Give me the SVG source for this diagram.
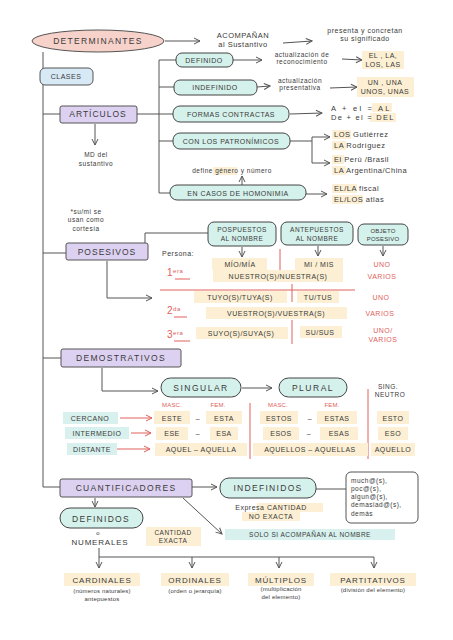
<svg xmlns="http://www.w3.org/2000/svg" width="453" height="640" viewBox="0 0 453 640">
<defs>
<marker id="a" markerWidth="8" markerHeight="8" refX="7" refY="4" orient="auto" markerUnits="userSpaceOnUse"><path d="M1,1 L7,4 L1,7" fill="none" stroke="#555" stroke-width="1"/></marker>
<marker id="ar" markerWidth="8" markerHeight="8" refX="7" refY="4" orient="auto" markerUnits="userSpaceOnUse"><path d="M1,1 L7,4 L1,7" fill="none" stroke="#e0605a" stroke-width="1"/></marker>
<style>
text{font-family:"Liberation Sans",Arial,sans-serif;fill:#3a3a3a;font-size:7px;letter-spacing:0.5px}
.m{text-anchor:middle}
.b8{font-size:8.5px;letter-spacing:1px}
.s6{font-size:6px;letter-spacing:0.2px}
.s65{font-size:6.5px}
.s75{font-size:7.5px}
.red{fill:#e0605a}
.pink{fill:#f6d2ca;stroke:#555;stroke-width:1}
.blue{fill:#d8e9f6;stroke:#555;stroke-width:1}
.pur{fill:#ddd1f1;stroke:#555;stroke-width:1}
.grn{fill:#d5f1eb;stroke:#444;stroke-width:1}
.hl{fill:#fcefd3}
.hlt{fill:#d8f1ee}
.box{fill:#fff;stroke:#555;stroke-width:1}
.c line,.c polyline,.c path{fill:none;stroke:#555;stroke-width:1}
.c .r{stroke:#e0605a}
</style>
</defs>
<rect width="453" height="640" fill="#fff"/>

<g class="c" id="connectors">
<line x1="43" y1="52" x2="43" y2="487"/>
<line x1="43" y1="487" x2="60" y2="487"/>
<line x1="43" y1="114" x2="60" y2="114"/>
<line x1="43" y1="253" x2="66" y2="253"/>
<line x1="43" y1="358" x2="61" y2="358"/>
<line x1="165" y1="41" x2="200" y2="41" marker-end="url(#a)"/>
<line x1="283" y1="43" x2="312" y2="41" marker-end="url(#a)"/>
<line x1="95" y1="124" x2="95" y2="145" marker-end="url(#a)"/>
<line x1="137" y1="114" x2="159" y2="114"/>
<line x1="159" y1="60" x2="159" y2="193"/>
<line x1="159" y1="60" x2="176" y2="60"/>
<line x1="159" y1="87" x2="174" y2="87"/>
<line x1="159" y1="114" x2="173" y2="114"/>
<line x1="159" y1="141" x2="173" y2="141"/>
<line x1="159" y1="193" x2="170" y2="193"/>
<line x1="233" y1="60" x2="262" y2="60" marker-end="url(#a)"/>
<line x1="342" y1="59" x2="362" y2="60" marker-end="url(#a)"/>
<line x1="257" y1="87" x2="270" y2="86" marker-end="url(#a)"/>
<line x1="330" y1="88" x2="357" y2="87" marker-end="url(#a)"/>
<line x1="290" y1="114" x2="322" y2="113" marker-end="url(#a)"/>
<polyline points="290,141 312,141"/>
<line x1="312" y1="137" x2="312" y2="163"/>
<line x1="312" y1="137" x2="330" y2="137" marker-end="url(#a)"/>
<line x1="312" y1="163" x2="330" y2="163" marker-end="url(#a)"/>
<line x1="242" y1="186" x2="242" y2="176" marker-end="url(#a)"/>
<line x1="306" y1="194" x2="327" y2="194" marker-end="url(#a)"/>
<polyline points="145,243 145,233 208,233"/>
<line x1="242" y1="247" x2="242" y2="257" marker-end="url(#a)"/>
<line x1="318" y1="246" x2="318" y2="256" marker-end="url(#a)"/>
<line x1="383" y1="246" x2="383" y2="256" marker-end="url(#a)"/>
<polyline points="107,261 107,298 152,298" marker-end="url(#a)"/>
<line class="r" x1="280" y1="249" x2="280" y2="270"/>
<line class="r" x1="160" y1="290" x2="355" y2="290"/>
<line class="r" x1="292" y1="284" x2="292" y2="302"/>
<line class="r" x1="292" y1="320" x2="292" y2="344"/>
<polyline points="102,368 102,391 158,391" marker-end="url(#a)"/>
<line x1="242" y1="388" x2="272" y2="388" marker-end="url(#a)"/>
<line class="r" x1="250" y1="403" x2="250" y2="459"/>
<line class="r" x1="368" y1="389" x2="368" y2="459"/>
<line class="r" x1="120" y1="418" x2="152" y2="418" marker-end="url(#ar)"/>
<line class="r" x1="131" y1="433" x2="151" y2="433" marker-end="url(#ar)"/>
<line class="r" x1="117" y1="449" x2="150" y2="449" marker-end="url(#ar)"/>
<line x1="192" y1="487" x2="217" y2="487" marker-end="url(#a)"/>
<line x1="316" y1="489" x2="346" y2="489"/>
<line x1="183" y1="498" x2="222" y2="534" marker-end="url(#a)"/>
<line x1="95" y1="498" x2="95" y2="507" marker-end="url(#a)"/>
<line x1="99" y1="548" x2="99" y2="568" marker-end="url(#a)"/>
<line x1="99" y1="557" x2="374" y2="557"/>
<line x1="192" y1="557" x2="192" y2="568" marker-end="url(#a)"/>
<line x1="279" y1="557" x2="279" y2="568" marker-end="url(#a)"/>
<line x1="374" y1="557" x2="374" y2="568" marker-end="url(#a)"/>
</g>

<g id="determinantes"><ellipse class="pink" cx="98" cy="41" rx="66" ry="11"/><text class="m b8" x="98" y="44" style="letter-spacing:1.3px">DETERMINANTES</text></g>
<g id="acompanan"><text class="m s75" x="243" y="38">ACOMPAÑAN</text><text class="m s75" x="243" y="47">al Sustantivo</text></g>
<g id="presenta"><text class="m" x="365" y="33">presenta y concretan</text><text class="m" x="365" y="41">su significado</text></g>
<g id="clases"><rect class="blue" x="40" y="68" width="53" height="17" rx="5"/><text class="m" x="66" y="79">CLASES</text></g>
<g id="articulos"><rect class="pur" x="60" y="106" width="77" height="17" rx="2"/><text class="m b8" x="98" y="117">ARTÍCULOS</text></g>
<g id="md"><text class="m s65" x="96" y="157">MD del</text><text class="m s65" x="96" y="166">sustantivo</text></g>

<g id="definido"><rect class="grn" x="176" y="53" width="57" height="14" rx="6"/><text class="m" x="204" y="63">DEFINIDO</text></g>
<g id="act-rec"><text class="m s65" x="302" y="57">actualización de</text><text class="m s65" x="302" y="64">reconocimiento</text></g>
<g id="el-la"><rect class="hl" x="362" y="51" width="42" height="18"/><text class="m" x="383" y="58">EL , LA,</text><text class="m" x="383" y="67">LOS, LAS</text></g>

<g id="indefinido"><rect class="grn" x="174" y="80" width="83" height="15" rx="6"/><text class="m" x="215" y="90">INDEFINIDO</text></g>
<g id="act-pres"><text class="m s65" x="300" y="83">actualización</text><text class="m s65" x="300" y="90">presentativa</text></g>
<g id="un-una"><rect class="hl" x="357" y="77" width="57" height="20"/><text class="m" x="385" y="85">UN , UNA</text><text class="m" x="385" y="94">UNOS, UNAS</text></g>

<g id="formas"><rect class="grn" x="173" y="106" width="116" height="16" rx="7"/><text class="m" x="231" y="117">FORMAS CONTRACTAS</text></g>
<g id="al-del"><rect class="hl" x="372" y="103" width="20" height="9"/><rect class="hl" x="370" y="113" width="26" height="9"/><text class="s75" x="331" y="111" textLength="59" lengthAdjust="spacing">A + el = AL</text><text class="s75" x="331" y="120" textLength="63" lengthAdjust="spacing">De + el = DEL</text></g>

<g id="patronimicos"><rect class="grn" x="173" y="133" width="117" height="16" rx="7"/><text class="m" x="231" y="144">CON LOS PATRONÍMICOS</text></g>
<g id="patr-ej"><rect class="hl" x="332" y="130" width="19" height="9"/><rect class="hl" x="332" y="141" width="14" height="9"/><rect class="hl" x="332" y="155" width="12" height="9"/><rect class="hl" x="332" y="166" width="14" height="9"/>
<text class="s75" x="334" y="137">LOS Gutiérrez</text><text class="s75" x="334" y="148">LA Rodríguez</text><text class="s75" x="334" y="162">El Perú /Brasil</text><text class="s75" x="334" y="173">LA Argentina/China</text></g>
<g id="genero"><rect class="hl" x="213" y="167" width="24" height="8"/><text class="m s65" x="232" y="173">define género y número</text></g>
<g id="homonimia"><rect class="grn" x="170" y="185" width="136" height="15" rx="7"/><text class="m" x="238" y="196">EN CASOS DE HOMONIMIA</text></g>
<g id="fiscal"><rect class="hl" x="332" y="184" width="25" height="9"/><rect class="hl" x="332" y="195" width="31" height="9"/><text class="s75" x="334" y="191">EL/LA fiscal</text><text class="s75" x="334" y="202">EL/LOS atlas</text></g>

<g id="cortesia"><text class="m s65" x="86" y="214">*su/mi se</text><text class="m s65" x="86" y="222">usan como</text><text class="m s65" x="86" y="231">cortesía</text></g>
<g id="posesivos"><rect class="pur" x="66" y="243" width="82" height="17" rx="2"/><text class="m b8" x="107" y="255">POSESIVOS</text></g>
<g id="pospuestos"><rect class="grn" x="208" y="222" width="68" height="24" rx="6"/><text class="m s65" x="242" y="232">POSPUESTOS</text><text class="m s65" x="242" y="241">AL NOMBRE</text></g>
<g id="antepuestos"><rect class="grn" x="281" y="222" width="72" height="23" rx="6"/><text class="m s65" x="317" y="232">ANTEPUESTOS</text><text class="m s65" x="317" y="241">AL NOMBRE</text></g>
<g id="objeto"><rect class="grn" x="358" y="224" width="50" height="21" rx="6"/><text class="m s6" x="383" y="233">OBJETO</text><text class="m s6" x="383" y="241">POSESIVO</text></g>
<g id="persona"><text x="162" y="256">Persona:</text></g>

<g id="p1"><text class="red" x="167" y="276" style="font-size:10px">1<tspan style="font-size:6px" dy="-3">era</tspan></text><line x1="175" y1="279" x2="190" y2="279" stroke="#e0605a"/>
<rect class="hl" x="212" y="258" width="55" height="12"/><text class="m" x="240" y="267">MÍO/MÍA</text>
<rect class="hl" x="295" y="258" width="48" height="12"/><text class="m" x="319" y="267">MI / MIS</text>
<rect class="hl" x="213" y="270" width="130" height="12"/><text class="m" x="278" y="279">NUESTRO(S)/NUESTRA(S)</text>
<text class="m red" x="382" y="267">UNO</text><text class="m red" x="382" y="279">VARIOS</text></g>

<g id="p2"><text class="red" x="167" y="314" style="font-size:10px">2<tspan style="font-size:6px" dy="-3">da</tspan></text><line x1="174" y1="317" x2="187" y2="317" stroke="#e0605a"/>
<rect class="hl" x="194" y="291" width="93" height="12"/><text class="m" x="240" y="300">TUYO(S)/TUYA(S)</text>
<rect class="hl" x="297" y="291" width="42" height="12"/><text class="m" x="318" y="300">TU/TUS</text>
<rect class="hl" x="206" y="307" width="141" height="12"/><text class="m" x="276" y="316">VUESTRO(S)/VUESTRA(S)</text>
<text class="m red" x="381" y="300">UNO</text><text class="m red" x="380" y="316">VARIOS</text></g>

<g id="p3"><text class="red" x="167" y="338" style="font-size:10px">3<tspan style="font-size:6px" dy="-3">era</tspan></text><line x1="174" y1="341" x2="190" y2="341" stroke="#e0605a"/>
<rect class="hl" x="196" y="327" width="92" height="12"/><text class="m" x="241" y="336">SUYO(S)/SUYA(S)</text>
<rect class="hl" x="300" y="326" width="42" height="12"/><text class="m" x="320" y="335">SU/SUS</text>
<text class="m red" x="383" y="333">UNO/</text><text class="m red" x="383" y="342">VARIOS</text></g>

<g id="demostrativos"><rect class="pur" x="61" y="349" width="120" height="18" rx="2"/><text class="m b8" x="121" y="361" style="letter-spacing:1.3px">DEMOSTRATIVOS</text></g>
<g id="singular"><rect class="grn" x="161" y="378" width="80" height="19" rx="9.5"/><text class="m b8" x="201" y="391" style="letter-spacing:1.5px">SINGULAR</text></g>
<g id="plural"><rect class="grn" x="279" y="378" width="68" height="19" rx="9.5"/><text class="m b8" x="313" y="391" style="letter-spacing:1.5px">PLURAL</text></g>
<g id="neutro"><text class="m s65" x="388" y="389">SING.</text><text class="m s65" x="390" y="397">NEUTRO</text></g>
<g id="headers"><text class="m s6 red" x="172" y="407">MASC.</text><text class="m s6 red" x="218" y="407">FEM.</text><text class="m s6 red" x="278" y="407">MASC.</text><text class="m s6 red" x="332" y="407">FEM.</text></g>

<g id="cercano"><rect class="hlt" x="63" y="412" width="55" height="12"/><text class="m" x="90" y="421">CERCANO</text>
<rect class="hl" x="154" y="411" width="36" height="13"/><text class="m" x="172" y="421">ESTE</text><text class="m" x="198" y="421">–</text>
<rect class="hl" x="206" y="411" width="36" height="13"/><text class="m" x="224" y="421">ESTA</text>
<rect class="hl" x="260" y="411" width="38" height="13"/><text class="m" x="279" y="421">ESTOS</text><text class="m" x="310" y="421">–</text>
<rect class="hl" x="317" y="411" width="40" height="13"/><text class="m" x="337" y="421">ESTAS</text>
<rect class="hl" x="377" y="411" width="32" height="13"/><text class="m" x="393" y="421">ESTO</text></g>

<g id="intermedio"><rect class="hlt" x="65" y="427" width="64" height="12"/><text class="m" x="97" y="436">INTERMEDIO</text>
<rect class="hl" x="156" y="427" width="32" height="13"/><text class="m" x="172" y="436">ESE</text><text class="m" x="198" y="436">–</text>
<rect class="hl" x="210" y="427" width="28" height="13"/><text class="m" x="224" y="436">ESA</text>
<rect class="hl" x="263" y="427" width="36" height="13"/><text class="m" x="281" y="436">ESOS</text><text class="m" x="309" y="436">–</text>
<rect class="hl" x="320" y="427" width="38" height="13"/><text class="m" x="339" y="436">ESAS</text>
<rect class="hl" x="378" y="427" width="30" height="13"/><text class="m" x="393" y="436">ESO</text></g>

<g id="distante"><rect class="hlt" x="67" y="443" width="50" height="12"/><text class="m" x="92" y="452">DISTANTE</text>
<rect class="hl" x="155" y="443" width="92" height="13"/><text class="m" x="201" y="452">AQUEL – AQUELLA</text>
<rect class="hl" x="253" y="443" width="115" height="13"/><text class="m" x="310" y="452">AQUELLOS – AQUELLAS</text>
<rect class="hl" x="371" y="443" width="44" height="13"/><text class="m" x="393" y="452">AQUELLO</text></g>

<g id="cuantificadores"><rect class="pur" x="60" y="479" width="132" height="18" rx="2"/><text class="m b8" x="126" y="491" style="letter-spacing:1.3px">CUANTIFICADORES</text></g>
<g id="indefinidos"><rect class="grn" x="220" y="478" width="96" height="20" rx="9"/><text class="m b8" x="268" y="491" style="letter-spacing:1.3px">INDEFINIDOS</text></g>
<g id="mucho"><rect class="box" x="346" y="472" width="72" height="51" rx="5"/>
<text class="s65" x="351" y="483">much@(s),</text><text class="s65" x="351" y="491">poc@(s),</text><text class="s65" x="351" y="499">algun@(s),</text><text class="s65" x="351" y="507">demasiad@(s),</text><text class="s65" x="351" y="516">demás</text></g>
<g id="no-exacta"><rect class="hl" x="257" y="503" width="66" height="9"/><rect class="hl" x="242" y="512" width="58" height="9"/><text class="m" x="271" y="510">Expresa CANTIDAD</text><text class="m" x="271" y="519">NO EXACTA</text></g>
<g id="solo-si"><rect class="hlt" x="225" y="529" width="170" height="11"/><text class="m s65" x="310" y="537">SOLO SI ACOMPAÑAN AL NOMBRE</text></g>
<g id="definidos"><rect class="grn" x="60" y="508" width="83" height="20" rx="10"/><text class="m b8" x="101" y="522" style="letter-spacing:1.3px">DEFINIDOS</text></g>
<g id="numerales"><text class="m s6" x="98" y="535">o</text><text class="m" x="100" y="545" style="font-size:8px;letter-spacing:0.8px">NUMERALES</text></g>
<g id="exacta"><rect class="hl" x="146" y="527" width="55" height="19"/><text class="m s65" x="173" y="535">CANTIDAD</text><text class="m s65" x="173" y="543">EXACTA</text></g>

<g id="cardinales"><rect class="hl" x="64" y="573" width="76" height="13"/><text class="m" x="102" y="583" style="font-size:8px;letter-spacing:0.8px">CARDINALES</text><text class="m s6" x="102" y="593">(números naturales)</text><text class="m s6" x="102" y="601">antepuestos</text></g>
<g id="ordinales"><rect class="hl" x="161" y="573" width="68" height="13"/><text class="m" x="195" y="583" style="font-size:8px;letter-spacing:0.8px">ORDINALES</text><text class="m s6" x="195" y="593">(orden o jerarquía)</text></g>
<g id="multiplos"><rect class="hl" x="248" y="573" width="66" height="13"/><text class="m" x="281" y="583" style="font-size:8px;letter-spacing:0.8px">MÚLTIPLOS</text><text class="m s6" x="281" y="591">(multiplicación</text><text class="m s6" x="281" y="599">del elemento)</text></g>
<g id="partitativos"><rect class="hl" x="330" y="573" width="86" height="13"/><text class="m" x="373" y="583" style="font-size:8px;letter-spacing:0.8px">PARTITATIVOS</text><text class="m s6" x="373" y="592">(división del elemento)</text></g>
</svg>
